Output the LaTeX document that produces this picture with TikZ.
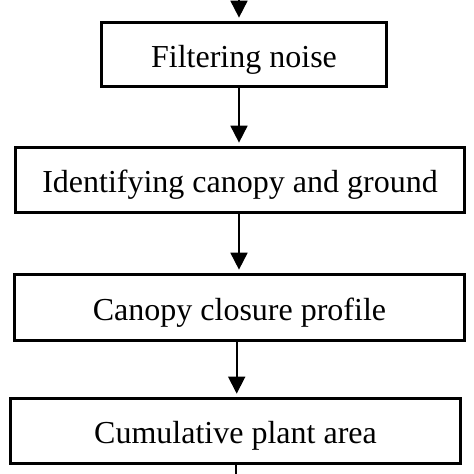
\documentclass[tikz,border=0pt]{standalone}
\usepackage{fontspec}
\setmainfont{Liberation Serif}
\usetikzlibrary{arrows.meta}
\begin{document}
\begin{tikzpicture}[x=1pt,y=1pt,
  stepbox/.style={draw=black,line width=2.6pt,rectangle,inner sep=0pt,
    text height=25pt,text depth=0pt,
    font=\fontsize{32}{36}\selectfont},
  flow/.style={line width=1.8pt,-{Triangle[length=17pt,width=17pt]},shorten >=3.3pt}]
\useasboundingbox (0,0) rectangle (474,-474);
\fill[white] (0,0) rectangle (474,-474);
\node[stepbox,minimum width=285.5pt,minimum height=64.5pt] (b1) at (244,-54.5) {Filtering noise};
\node[stepbox,minimum width=449.5pt,minimum height=65.5pt] (b2) at (240,-180) {Identifying canopy and ground};
\node[stepbox,minimum width=450.5pt,minimum height=66.5pt] (b3) at (239.5,-307.5) {Canopy closure profile};
\node[stepbox,minimum width=450.5pt,minimum height=65.5pt] (b4) at (235.5,-431) {Cumulative plant area};
\coordinate (top) at (239,10);
\coordinate (low) at (236.7,-390);
\coordinate (bot) at (235.7,-480);
\draw[flow] (top) -- (top |- b1.north);
\draw[flow] (b1.south -| top) -- (b2.north -| top);
\draw[flow] (b2.south -| top) -- (b3.north -| top);
\draw[flow] (b3.south -| low) -- (b4.north -| low);
\draw[line width=1.8pt] (b4.south -| bot) -- (bot);
\end{tikzpicture}
\end{document}
